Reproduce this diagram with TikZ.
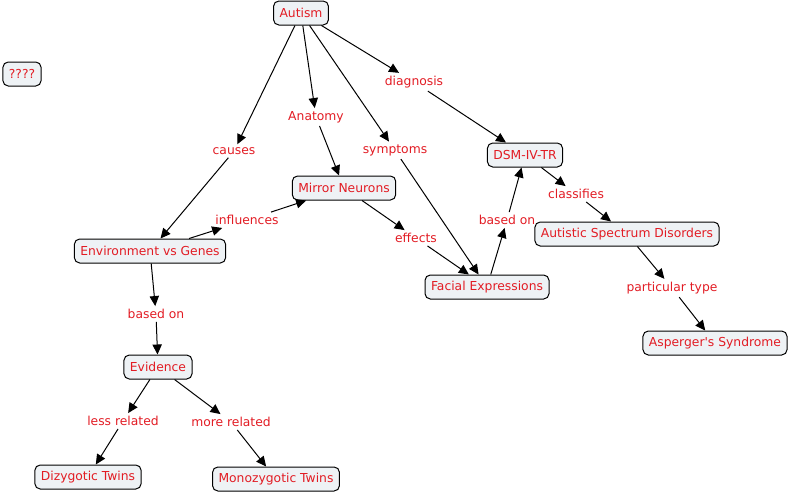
\documentclass[tikz,border=0pt]{standalone}
\usepackage{fontspec}
\setmainfont{DejaVu Sans}[Ligatures=TeXOff]
\usetikzlibrary{positioning,arrows.meta}
\definecolor{cmapred}{RGB}{226,28,36}
\definecolor{cmapfill}{RGB}{238,242,245}

\begin{document}
\begin{tikzpicture}[-{Triangle[length=7.5pt,width=7pt]}, line width=0.75pt, on grid,
  concept/.style={draw, rounded corners=4pt, fill=cmapfill, text=cmapred,
    minimum height=18pt, inner xsep=4.5pt, font=\fontsize{9.25}{11}\selectfont},
  linking/.style={text=cmapred, inner sep=2pt, font=\fontsize{9.25}{11}\selectfont}]
  \useasboundingbox (-225.75pt,9.75pt) rectangle (367.5pt,-362.25pt);

  \node[concept] (autism) {Autism};
  \node[concept] (unknown) [below left=45.75pt and 209.25pt of autism] {????};
  \node[linking] (causes) [below left=103.5pt and 50.25pt of autism] {causes};
  \node[linking] (anatomy) [below right=78pt and 11.25pt of autism] {Anatomy};
  \node[linking] (symptoms) [below right=103pt and 70.5pt of autism] {symptoms};
  \node[linking] (diagnosis) [below right=51.75pt and 84.75pt of autism] {diagnosis};
  \node[concept] (mirror) [below right=53.25pt and 21pt of anatomy] {Mirror Neurons};
  \node[concept] (envgenes) [below left=75pt and 63pt of causes] {Environment vs Genes};
  \node[concept] (dsm) [below right=54.75pt and 83.25pt of diagnosis] {DSM-IV-TR};
  \node[linking] (influences) [above right=23.25pt and 72.75pt of envgenes] {influences};
  \node[linking] (effects) [below right=37.5pt and 54pt of mirror] {effects};
  \node[concept] (facial) [below right=36.75pt and 53.25pt of effects] {Facial Expressions};
  \node[linking] (basedon1) [above right=50.25pt and 15pt of facial] {based on};
  \node[linking] (classifies) [below right=29.25pt and 38.25pt of dsm] {classifies};
  \node[concept] (asd) [below right=30pt and 38.25pt of classifies] {Autistic Spectrum Disorders};
  \node[linking] (parttype) [below right=40.5pt and 33.75pt of asd] {particular type};
  \node[concept] (asperger) [below right=41.25pt and 32.25pt of parttype] {Asperger's Syndrome};
  \node[linking] (basedon2) [below right=47.25pt and 4.5pt of envgenes] {based on};
  \node[concept] (evidence) [below right=39.75pt and 1.5pt of basedon2] {Evidence};
  \node[linking] (lessrel) [below left=40.5pt and 26.25pt of evidence] {less related};
  \node[linking] (morerel) [below right=41.25pt and 54.75pt of evidence] {more related};
  \node[concept] (dizygotic) [below left=42pt and 26.25pt of lessrel] {Dizygotic Twins};
  \node[concept] (monozygotic) [below right=42.75pt and 33.75pt of morerel] {Monozygotic Twins};

  \path (autism) edge (causes);
  \path (causes) edge (envgenes);
  \path (autism) edge (anatomy);
  \path (anatomy) edge (mirror);
  \path (autism) edge (symptoms);
  \path (symptoms) edge (facial);
  \path (autism) edge (diagnosis);
  \path (diagnosis) edge (dsm);
  \path (envgenes) edge (influences);
  \path (influences) edge (mirror);
  \path (mirror) edge (effects);
  \path (effects) edge (facial);
  \path (facial) edge (basedon1);
  \path (basedon1) edge (dsm);
  \path (dsm) edge (classifies);
  \path (classifies) edge (asd);
  \path (asd) edge (parttype);
  \path (parttype) edge (asperger);
  \path (envgenes) edge (basedon2);
  \path (basedon2) edge (evidence);
  \path (evidence) edge (lessrel);
  \path (lessrel) edge (dizygotic);
  \path (evidence) edge (morerel);
  \path (morerel) edge (monozygotic);
\end{tikzpicture}
\end{document}
